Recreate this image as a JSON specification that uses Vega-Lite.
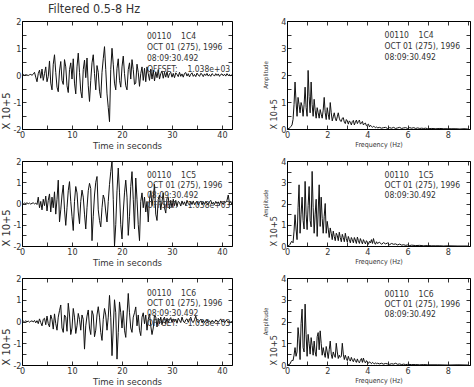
{
"$schema": "https://vega.github.io/schema/vega-lite/v6.json",
"padding": {"left": 0, "top": 2, "right": 4, "bottom": 0},
"columns": 2,
"spacing": {"row": 32, "column": 55},
"bounds": "flush",
"datasets": {
"w4": [{"t":0,"v":0},{"t":0.25,"v":0.02},{"t":0.5,"v":-0.01},{"t":0.75,"v":0.01},{"t":1,"v":0},{"t":1.25,"v":-0.02},{"t":1.5,"v":0.01},{"t":1.75,"v":0.02},{"t":2,"v":-0.01},{"t":2.25,"v":0.03},{"t":2.5,"v":0.1},{"t":2.75,"v":-0.08},{"t":3,"v":-0.25},{"t":3.25,"v":0.05},{"t":3.5,"v":0.18},{"t":3.75,"v":-0.12},{"t":4,"v":0.22},{"t":4.25,"v":-0.2},{"t":4.5,"v":0.05},{"t":4.75,"v":0.3},{"t":5,"v":-0.25},{"t":5.25,"v":-0.05},{"t":5.5,"v":0.52},{"t":5.75,"v":-0.3},{"t":6,"v":-0.55},{"t":6.25,"v":0.4},{"t":6.5,"v":0.75},{"t":6.75,"v":0.1},{"t":7,"v":-0.45},{"t":7.25,"v":-0.62},{"t":7.5,"v":0.15},{"t":7.75,"v":0.5},{"t":8,"v":-0.2},{"t":8.25,"v":-0.35},{"t":8.5,"v":0.57},{"t":8.75,"v":0.3},{"t":9,"v":-0.4},{"t":9.25,"v":-0.65},{"t":9.5,"v":0.2},{"t":9.75,"v":0.45},{"t":10,"v":-0.15},{"t":10.25,"v":0.6},{"t":10.5,"v":-0.3},{"t":10.75,"v":-0.7},{"t":11,"v":0.3},{"t":11.25,"v":0.81},{"t":11.5,"v":0.1},{"t":11.75,"v":-0.6},{"t":12,"v":-0.85},{"t":12.25,"v":0.2},{"t":12.5,"v":0.55},{"t":12.75,"v":-0.1},{"t":13,"v":0.63},{"t":13.25,"v":-0.4},{"t":13.5,"v":-0.98},{"t":13.75,"v":-0.2},{"t":14,"v":0.45},{"t":14.25,"v":0.75},{"t":14.5,"v":0.05},{"t":14.75,"v":-0.55},{"t":15,"v":0.35},{"t":15.25,"v":0.1},{"t":15.5,"v":-0.6},{"t":15.75,"v":-0.85},{"t":16,"v":0.1},{"t":16.25,"v":0.6},{"t":16.5,"v":1.05},{"t":16.75,"v":0.2},{"t":17,"v":-0.7},{"t":17.25,"v":-1.2},{"t":17.5,"v":-1.73},{"t":17.75,"v":0.2},{"t":18,"v":0.99},{"t":18.25,"v":0.4},{"t":18.5,"v":-0.3},{"t":18.75,"v":-0.55},{"t":19,"v":0.25},{"t":19.25,"v":0.6},{"t":19.5,"v":-0.2},{"t":19.75,"v":-0.45},{"t":20,"v":0.3},{"t":20.25,"v":0.7},{"t":20.5,"v":0.05},{"t":20.75,"v":-0.4},{"t":21,"v":-0.55},{"t":21.25,"v":0.2},{"t":21.5,"v":0.45},{"t":21.75,"v":-0.15},{"t":22,"v":0.57},{"t":22.25,"v":0.2},{"t":22.5,"v":-0.35},{"t":22.75,"v":-0.3},{"t":23,"v":0.4},{"t":23.25,"v":0.1},{"t":23.5,"v":-0.42},{"t":23.75,"v":0.05},{"t":24,"v":0.3},{"t":24.25,"v":-0.2},{"t":24.5,"v":0.25},{"t":24.75,"v":-0.25},{"t":25,"v":0.3},{"t":25.25,"v":0.05},{"t":25.5,"v":-0.2},{"t":25.75,"v":0.22},{"t":26,"v":-0.15},{"t":26.25,"v":0.18},{"t":26.5,"v":-0.22},{"t":26.75,"v":0.12},{"t":27,"v":-0.1},{"t":27.25,"v":0.2},{"t":27.5,"v":-0.15},{"t":27.75,"v":0.05},{"t":28,"v":0.15},{"t":28.25,"v":-0.12},{"t":28.5,"v":0.1},{"t":28.75,"v":-0.08},{"t":29,"v":0.12},{"t":29.25,"v":-0.1},{"t":29.5,"v":0.05},{"t":29.75,"v":0.1},{"t":30,"v":-0.08},{"t":30.25,"v":0.06},{"t":30.5,"v":-0.1},{"t":30.75,"v":0.08},{"t":31,"v":0.02},{"t":31.25,"v":-0.06},{"t":31.5,"v":0.1},{"t":31.75,"v":-0.05},{"t":32,"v":0.04},{"t":32.25,"v":-0.08},{"t":32.5,"v":0.06},{"t":32.75,"v":0.09},{"t":33,"v":-0.04},{"t":33.25,"v":0.05},{"t":33.5,"v":-0.07},{"t":33.75,"v":0.03},{"t":34,"v":0.08},{"t":34.25,"v":-0.05},{"t":34.5,"v":0.02},{"t":34.75,"v":-0.06},{"t":35,"v":0.07},{"t":35.25,"v":0},{"t":35.5,"v":-0.05},{"t":35.75,"v":0.06},{"t":36,"v":0.03},{"t":36.25,"v":-0.06},{"t":36.5,"v":0.04},{"t":36.75,"v":-0.02},{"t":37,"v":0.06},{"t":37.25,"v":-0.04},{"t":37.5,"v":0.02},{"t":37.75,"v":-0.05},{"t":38,"v":0.05},{"t":38.25,"v":0.01},{"t":38.5,"v":-0.04},{"t":38.75,"v":0.05},{"t":39,"v":-0.02},{"t":39.25,"v":0.04},{"t":39.5,"v":-0.05},{"t":39.75,"v":0.02},{"t":40,"v":0.04},{"t":40.25,"v":-0.03},{"t":40.5,"v":0.03},{"t":40.75,"v":-0.04},{"t":41,"v":0.05},{"t":41.25,"v":-0.02},{"t":41.5,"v":0.02},{"t":41.75,"v":-0.03},{"t":42,"v":0.01}],
"w5": [{"t":0,"v":0},{"t":0.25,"v":-0.02},{"t":0.5,"v":0.02},{"t":0.75,"v":0},{"t":1,"v":0.03},{"t":1.25,"v":-0.01},{"t":1.5,"v":0.02},{"t":1.75,"v":-0.03},{"t":2,"v":0.01},{"t":2.25,"v":0.03},{"t":2.5,"v":-0.02},{"t":2.75,"v":0.02},{"t":3,"v":-0.05},{"t":3.25,"v":0.3},{"t":3.5,"v":-0.2},{"t":3.75,"v":0.1},{"t":4,"v":-0.3},{"t":4.25,"v":0.2},{"t":4.5,"v":-0.1},{"t":4.75,"v":0.35},{"t":5,"v":-0.35},{"t":5.25,"v":0.15},{"t":5.5,"v":0.45},{"t":5.75,"v":-0.4},{"t":6,"v":0.3},{"t":6.25,"v":-0.2},{"t":6.5,"v":0.55},{"t":6.75,"v":-0.5},{"t":7,"v":0.2},{"t":7.25,"v":1.1},{"t":7.5,"v":-0.87},{"t":7.75,"v":-0.3},{"t":8,"v":0.4},{"t":8.25,"v":0.87},{"t":8.5,"v":-0.3},{"t":8.75,"v":-1.03},{"t":9,"v":-0.2},{"t":9.25,"v":0.6},{"t":9.5,"v":1.03},{"t":9.75,"v":0.1},{"t":10,"v":-0.6},{"t":10.25,"v":-1.27},{"t":10.5,"v":0.1},{"t":10.75,"v":0.8},{"t":11,"v":0.5},{"t":11.25,"v":-0.4},{"t":11.5,"v":-0.95},{"t":11.75,"v":0.1},{"t":12,"v":0.63},{"t":12.25,"v":0.3},{"t":12.5,"v":-0.5},{"t":12.75,"v":-1.2},{"t":13,"v":-0.2},{"t":13.25,"v":0.6},{"t":13.5,"v":0.95},{"t":13.75,"v":0.7},{"t":14,"v":-1.75},{"t":14.25,"v":-0.6},{"t":14.5,"v":0.4},{"t":14.75,"v":1},{"t":15,"v":1.27},{"t":15.25,"v":-0.3},{"t":15.5,"v":-0.8},{"t":15.75,"v":-1.1},{"t":16,"v":-0.2},{"t":16.25,"v":0.4},{"t":16.5,"v":0.2},{"t":16.75,"v":-0.4},{"t":17,"v":-0.87},{"t":17.25,"v":0.1},{"t":17.5,"v":0.9},{"t":17.75,"v":1.5},{"t":18,"v":2},{"t":18.25,"v":0.2},{"t":18.5,"v":-2},{"t":18.75,"v":-1},{"t":19,"v":0.6},{"t":19.25,"v":1.67},{"t":19.5,"v":0.5},{"t":19.75,"v":-1},{"t":20,"v":-1.67},{"t":20.25,"v":-0.4},{"t":20.5,"v":0.5},{"t":20.75,"v":1.1},{"t":21,"v":0.3},{"t":21.25,"v":-1.5},{"t":21.5,"v":-0.6},{"t":21.75,"v":0.8},{"t":22,"v":1.5},{"t":22.25,"v":0.2},{"t":22.5,"v":-1.2},{"t":22.75,"v":1.2},{"t":23,"v":0.2},{"t":23.25,"v":-1},{"t":23.5,"v":-1.75},{"t":23.75,"v":0.1},{"t":24,"v":0.5},{"t":24.25,"v":-0.2},{"t":24.5,"v":0.3},{"t":24.75,"v":-0.4},{"t":25,"v":0.1},{"t":25.25,"v":-0.87},{"t":25.5,"v":0.2},{"t":25.75,"v":0.6},{"t":26,"v":-0.1},{"t":26.25,"v":0.3},{"t":26.5,"v":0.9},{"t":26.75,"v":-0.5},{"t":27,"v":-0.8},{"t":27.25,"v":0.2},{"t":27.5,"v":0.4},{"t":27.75,"v":-0.3},{"t":28,"v":0.1},{"t":28.25,"v":0.5},{"t":28.5,"v":-0.2},{"t":28.75,"v":-0.45},{"t":29,"v":0.25},{"t":29.25,"v":0.3},{"t":29.5,"v":-0.25},{"t":29.75,"v":0.15},{"t":30,"v":-0.2},{"t":30.25,"v":0.2},{"t":30.5,"v":-0.1},{"t":30.75,"v":0.15},{"t":31,"v":-0.15},{"t":31.25,"v":0.1},{"t":31.5,"v":0.05},{"t":31.75,"v":-0.12},{"t":32,"v":0.12},{"t":32.25,"v":-0.05},{"t":32.5,"v":0.08},{"t":32.75,"v":-0.1},{"t":33,"v":0.15},{"t":33.25,"v":0},{"t":33.5,"v":-0.08},{"t":33.75,"v":0.1},{"t":34,"v":-0.05},{"t":34.25,"v":0.12},{"t":34.5,"v":-0.06},{"t":34.75,"v":0.05},{"t":35,"v":0.1},{"t":35.25,"v":-0.08},{"t":35.5,"v":0.06},{"t":35.75,"v":0.12},{"t":36,"v":-0.05},{"t":36.25,"v":0.08},{"t":36.5,"v":-0.04},{"t":36.75,"v":0.1},{"t":37,"v":0.02},{"t":37.25,"v":-0.06},{"t":37.5,"v":0.08},{"t":37.75,"v":0.15},{"t":38,"v":-0.03},{"t":38.25,"v":0.06},{"t":38.5,"v":-0.05},{"t":38.75,"v":0.1},{"t":39,"v":0},{"t":39.25,"v":0.08},{"t":39.5,"v":-0.06},{"t":39.75,"v":0.12},{"t":40,"v":0.03},{"t":40.25,"v":-0.05},{"t":40.5,"v":0.1},{"t":40.75,"v":0.05},{"t":41,"v":0.15},{"t":41.25,"v":0.4},{"t":41.5,"v":0},{"t":41.75,"v":0.1},{"t":42,"v":-0.05}],
"w6": [{"t":0,"v":0},{"t":0.25,"v":0.02},{"t":0.5,"v":-0.02},{"t":0.75,"v":0.03},{"t":1,"v":-0.01},{"t":1.25,"v":0.02},{"t":1.5,"v":-0.03},{"t":1.75,"v":0.01},{"t":2,"v":0.03},{"t":2.25,"v":-0.02},{"t":2.5,"v":0.05},{"t":2.75,"v":-0.06},{"t":3,"v":0.04},{"t":3.25,"v":-0.1},{"t":3.5,"v":0.12},{"t":3.75,"v":-0.05},{"t":4,"v":-0.2},{"t":4.25,"v":0.1},{"t":4.5,"v":0.15},{"t":4.75,"v":-0.15},{"t":5,"v":0.25},{"t":5.25,"v":-0.1},{"t":5.5,"v":-0.25},{"t":5.75,"v":0.3},{"t":6,"v":0.1},{"t":6.25,"v":-0.35},{"t":6.5,"v":0.35},{"t":6.75,"v":-0.1},{"t":7,"v":-0.4},{"t":7.25,"v":0.2},{"t":7.5,"v":0.5},{"t":7.75,"v":0.76},{"t":8,"v":-0.3},{"t":8.25,"v":-0.5},{"t":8.5,"v":0.3},{"t":8.75,"v":0.2},{"t":9,"v":-0.45},{"t":9.25,"v":0.84},{"t":9.5,"v":0.3},{"t":9.75,"v":-0.6},{"t":10,"v":-0.3},{"t":10.25,"v":0.6},{"t":10.5,"v":0.2},{"t":10.75,"v":-0.55},{"t":11,"v":-0.2},{"t":11.25,"v":0.37},{"t":11.5,"v":0.1},{"t":11.75,"v":-0.4},{"t":12,"v":0.3},{"t":12.25,"v":0.1},{"t":12.5,"v":-1.27},{"t":12.75,"v":-0.2},{"t":13,"v":0.25},{"t":13.25,"v":0.53},{"t":13.5,"v":-0.3},{"t":13.75,"v":-0.6},{"t":14,"v":0.5},{"t":14.25,"v":0.3},{"t":14.5,"v":-0.7},{"t":14.75,"v":-0.4},{"t":15,"v":0.3},{"t":15.25,"v":0.68},{"t":15.5,"v":0.2},{"t":15.75,"v":-0.5},{"t":16,"v":-0.87},{"t":16.25,"v":0.1},{"t":16.5,"v":0.6},{"t":16.75,"v":0.3},{"t":17,"v":-0.4},{"t":17.25,"v":0.2},{"t":17.5,"v":1.2},{"t":17.75,"v":0.2},{"t":18,"v":-1.57},{"t":18.25,"v":-0.3},{"t":18.5,"v":1},{"t":18.75,"v":0.4},{"t":19,"v":-1.73},{"t":19.25,"v":-0.5},{"t":19.5,"v":0.9},{"t":19.75,"v":0.4},{"t":20,"v":-0.3},{"t":20.25,"v":0.5},{"t":20.5,"v":-0.4},{"t":20.75,"v":-0.73},{"t":21,"v":0.3},{"t":21.25,"v":1.29},{"t":21.5,"v":0.4},{"t":21.75,"v":-0.3},{"t":22,"v":-0.5},{"t":22.25,"v":0.2},{"t":22.5,"v":0.4},{"t":22.75,"v":0.67},{"t":23,"v":-0.2},{"t":23.25,"v":0.3},{"t":23.5,"v":-0.4},{"t":23.75,"v":-0.65},{"t":24,"v":0.2},{"t":24.25,"v":0.4},{"t":24.5,"v":-0.1},{"t":24.75,"v":0.3},{"t":25,"v":-0.4},{"t":25.25,"v":0.1},{"t":25.5,"v":0.35},{"t":25.75,"v":-0.2},{"t":26,"v":-0.6},{"t":26.25,"v":-0.3},{"t":26.5,"v":0.3},{"t":26.75,"v":0.2},{"t":27,"v":-0.25},{"t":27.25,"v":0.15},{"t":27.5,"v":-0.1},{"t":27.75,"v":0.2},{"t":28,"v":-0.15},{"t":28.25,"v":0.1},{"t":28.5,"v":0.2},{"t":28.75,"v":-0.1},{"t":29,"v":0.15},{"t":29.25,"v":-0.05},{"t":29.5,"v":0.1},{"t":29.75,"v":0.18},{"t":30,"v":-0.05},{"t":30.25,"v":0.12},{"t":30.5,"v":0},{"t":30.75,"v":0.1},{"t":31,"v":-0.08},{"t":31.25,"v":0.15},{"t":31.5,"v":0.05},{"t":31.75,"v":-0.05},{"t":32,"v":0.2},{"t":32.25,"v":0.02},{"t":32.5,"v":-0.06},{"t":32.75,"v":0.08},{"t":33,"v":0.12},{"t":33.25,"v":-0.04},{"t":33.5,"v":0.1},{"t":33.75,"v":0.2},{"t":34,"v":0},{"t":34.25,"v":-0.05},{"t":34.5,"v":0.08},{"t":34.75,"v":0.25},{"t":35,"v":0.02},{"t":35.25,"v":-0.06},{"t":35.5,"v":0.05},{"t":35.75,"v":0.1},{"t":36,"v":-0.04},{"t":36.25,"v":0.06},{"t":36.5,"v":-0.05},{"t":36.75,"v":0.04},{"t":37,"v":0.08},{"t":37.25,"v":-0.03},{"t":37.5,"v":0.02},{"t":37.75,"v":-0.06},{"t":38,"v":0.05},{"t":38.25,"v":0},{"t":38.5,"v":-0.05},{"t":38.75,"v":0.07},{"t":39,"v":0.02},{"t":39.25,"v":-0.04},{"t":39.5,"v":0.05},{"t":39.75,"v":0.12},{"t":40,"v":-0.02},{"t":40.25,"v":0.04},{"t":40.5,"v":-0.06},{"t":40.75,"v":0.03},{"t":41,"v":0.05},{"t":41.25,"v":-0.03},{"t":41.5,"v":0.02},{"t":41.75,"v":-0.04},{"t":42,"v":0.01}],
"f4": [{"f":0,"a":0},{"f":0.05,"a":0.01},{"f":0.1,"a":0.02},{"f":0.15,"a":0.05},{"f":0.2,"a":0.1},{"f":0.25,"a":0.15},{"f":0.3,"a":0.35},{"f":0.35,"a":0.9},{"f":0.4,"a":1.74},{"f":0.45,"a":1},{"f":0.5,"a":0.47},{"f":0.55,"a":1.17},{"f":0.6,"a":0.9},{"f":0.65,"a":0.6},{"f":0.7,"a":0.98},{"f":0.75,"a":0.85},{"f":0.8,"a":0.47},{"f":0.85,"a":0.9},{"f":0.9,"a":1.55},{"f":0.95,"a":0.8},{"f":1,"a":0.47},{"f":1.05,"a":2.17},{"f":1.1,"a":1.2},{"f":1.15,"a":0.6},{"f":1.2,"a":1.74},{"f":1.25,"a":0.9},{"f":1.3,"a":0.47},{"f":1.35,"a":1.1},{"f":1.4,"a":0.7},{"f":1.45,"a":0.4},{"f":1.5,"a":0.79},{"f":1.55,"a":0.6},{"f":1.6,"a":0.4},{"f":1.65,"a":0.72},{"f":1.7,"a":0.55},{"f":1.75,"a":0.4},{"f":1.8,"a":0.7},{"f":1.85,"a":1.17},{"f":1.9,"a":0.6},{"f":1.95,"a":0.35},{"f":2,"a":0.79},{"f":2.05,"a":0.55},{"f":2.1,"a":0.35},{"f":2.15,"a":0.98},{"f":2.2,"a":0.6},{"f":2.25,"a":0.3},{"f":2.3,"a":0.45},{"f":2.35,"a":0.6},{"f":2.4,"a":0.4},{"f":2.45,"a":0.3},{"f":2.5,"a":0.45},{"f":2.55,"a":0.6},{"f":2.6,"a":0.4},{"f":2.65,"a":0.3},{"f":2.7,"a":0.28},{"f":2.75,"a":0.4},{"f":2.8,"a":0.42},{"f":2.85,"a":0.25},{"f":2.9,"a":0.2},{"f":2.95,"a":0.35},{"f":3,"a":0.3},{"f":3.05,"a":0.18},{"f":3.1,"a":0.3},{"f":3.15,"a":0.25},{"f":3.2,"a":0.15},{"f":3.25,"a":0.28},{"f":3.3,"a":0.32},{"f":3.35,"a":0.15},{"f":3.4,"a":0.25},{"f":3.45,"a":0.33},{"f":3.5,"a":0.2},{"f":3.55,"a":0.28},{"f":3.6,"a":0.33},{"f":3.65,"a":0.18},{"f":3.7,"a":0.22},{"f":3.75,"a":0.28},{"f":3.8,"a":0.15},{"f":3.85,"a":0.2},{"f":3.9,"a":0.22},{"f":3.95,"a":0.12},{"f":4,"a":0.15},{"f":4.05,"a":0.18},{"f":4.1,"a":0.08},{"f":4.15,"a":0.14},{"f":4.2,"a":0.1},{"f":4.25,"a":0.06},{"f":4.3,"a":0.1},{"f":4.35,"a":0.08},{"f":4.4,"a":0.05},{"f":4.45,"a":0.08},{"f":4.5,"a":0.04},{"f":4.6,"a":0.06},{"f":4.7,"a":0.03},{"f":4.8,"a":0.05},{"f":4.9,"a":0.06},{"f":5,"a":0.02},{"f":5.1,"a":0.05},{"f":5.2,"a":0.03},{"f":5.3,"a":0.06},{"f":5.4,"a":0.02},{"f":5.5,"a":0.04},{"f":5.6,"a":0.06},{"f":5.7,"a":0.02},{"f":5.8,"a":0.04},{"f":5.9,"a":0.05},{"f":6,"a":0.02},{"f":6.1,"a":0.05},{"f":6.2,"a":0.03},{"f":6.3,"a":0.05},{"f":6.4,"a":0.02},{"f":6.5,"a":0.04},{"f":6.6,"a":0.02},{"f":6.7,"a":0.03},{"f":6.8,"a":0.02},{"f":6.9,"a":0.03},{"f":7,"a":0.01},{"f":7.2,"a":0.02},{"f":7.4,"a":0.01},{"f":7.6,"a":0.02},{"f":7.8,"a":0.01},{"f":8,"a":0.01},{"f":8.2,"a":0.01},{"f":8.4,"a":0.01},{"f":8.6,"a":0},{"f":8.8,"a":0.01},{"f":9,"a":0}],
"f5": [{"f":0,"a":0},{"f":0.05,"a":0.01},{"f":0.1,"a":0.02},{"f":0.15,"a":0.08},{"f":0.2,"a":0.18},{"f":0.25,"a":0.22},{"f":0.3,"a":0.15},{"f":0.35,"a":0.7},{"f":0.4,"a":1.47},{"f":0.45,"a":0.8},{"f":0.5,"a":0.3},{"f":0.55,"a":1.8},{"f":0.6,"a":2.88},{"f":0.65,"a":0.6},{"f":0.7,"a":1.5},{"f":0.75,"a":2.3},{"f":0.8,"a":1.2},{"f":0.85,"a":0.8},{"f":0.9,"a":3.04},{"f":0.95,"a":1.5},{"f":1,"a":0.77},{"f":1.05,"a":1.9},{"f":1.1,"a":2.8},{"f":1.15,"a":1.2},{"f":1.2,"a":0.9},{"f":1.25,"a":3.51},{"f":1.3,"a":1.8},{"f":1.35,"a":0.6},{"f":1.4,"a":1.5},{"f":1.45,"a":2.2},{"f":1.5,"a":0.45},{"f":1.55,"a":1.6},{"f":1.6,"a":2.88},{"f":1.65,"a":0.92},{"f":1.7,"a":2.3},{"f":1.75,"a":1.3},{"f":1.8,"a":0.6},{"f":1.85,"a":1.4},{"f":1.9,"a":2},{"f":1.95,"a":0.6},{"f":2,"a":1.16},{"f":2.05,"a":0.8},{"f":2.1,"a":0.4},{"f":2.15,"a":0.85},{"f":2.2,"a":0.6},{"f":2.25,"a":0.3},{"f":2.3,"a":0.7},{"f":2.35,"a":0.45},{"f":2.4,"a":0.25},{"f":2.45,"a":0.6},{"f":2.5,"a":0.5},{"f":2.55,"a":0.25},{"f":2.6,"a":0.65},{"f":2.65,"a":0.4},{"f":2.7,"a":0.2},{"f":2.75,"a":0.55},{"f":2.8,"a":0.4},{"f":2.85,"a":0.2},{"f":2.9,"a":0.6},{"f":2.95,"a":0.35},{"f":3,"a":0.18},{"f":3.05,"a":0.45},{"f":3.1,"a":0.3},{"f":3.15,"a":0.15},{"f":3.2,"a":0.4},{"f":3.25,"a":0.3},{"f":3.3,"a":0.15},{"f":3.35,"a":0.4},{"f":3.4,"a":0.28},{"f":3.45,"a":0.12},{"f":3.5,"a":0.42},{"f":3.55,"a":0.25},{"f":3.6,"a":0.12},{"f":3.65,"a":0.35},{"f":3.7,"a":0.22},{"f":3.75,"a":0.1},{"f":3.8,"a":0.3},{"f":3.85,"a":0.2},{"f":3.9,"a":0.1},{"f":3.95,"a":0.25},{"f":4,"a":0.18},{"f":4.05,"a":0.08},{"f":4.1,"a":0.22},{"f":4.15,"a":0.15},{"f":4.2,"a":0.3},{"f":4.25,"a":0.12},{"f":4.3,"a":0.35},{"f":4.35,"a":0.15},{"f":4.4,"a":0.08},{"f":4.45,"a":0.2},{"f":4.5,"a":0.12},{"f":4.6,"a":0.18},{"f":4.7,"a":0.08},{"f":4.8,"a":0.16},{"f":4.9,"a":0.1},{"f":5,"a":0.14},{"f":5.1,"a":0.06},{"f":5.2,"a":0.12},{"f":5.3,"a":0.08},{"f":5.4,"a":0.1},{"f":5.5,"a":0.05},{"f":5.6,"a":0.09},{"f":5.7,"a":0.04},{"f":5.8,"a":0.06},{"f":5.9,"a":0.03},{"f":6,"a":0.05},{"f":6.1,"a":0.02},{"f":6.2,"a":0.04},{"f":6.4,"a":0.02},{"f":6.6,"a":0.03},{"f":6.8,"a":0.01},{"f":7,"a":0.02},{"f":7.2,"a":0.01},{"f":7.4,"a":0.01},{"f":7.6,"a":0.01},{"f":7.8,"a":0},{"f":8,"a":0.01},{"f":8.5,"a":0},{"f":9,"a":0}],
"f6": [{"f":0,"a":0},{"f":0.05,"a":0.01},{"f":0.1,"a":0.02},{"f":0.15,"a":0.05},{"f":0.2,"a":0.15},{"f":0.25,"a":0.22},{"f":0.3,"a":0.2},{"f":0.35,"a":0.45},{"f":0.4,"a":0.8},{"f":0.45,"a":0.4},{"f":0.5,"a":0.6},{"f":0.55,"a":1.72},{"f":0.6,"a":1.2},{"f":0.65,"a":0.25},{"f":0.7,"a":1.9},{"f":0.75,"a":2.57},{"f":0.8,"a":0.8},{"f":0.85,"a":0.6},{"f":0.9,"a":2.8},{"f":0.95,"a":1.4},{"f":1,"a":0.4},{"f":1.05,"a":1.41},{"f":1.1,"a":1},{"f":1.15,"a":0.5},{"f":1.2,"a":1.26},{"f":1.25,"a":0.9},{"f":1.3,"a":0.45},{"f":1.35,"a":1.1},{"f":1.4,"a":0.6},{"f":1.45,"a":0.4},{"f":1.5,"a":1.3},{"f":1.55,"a":1.49},{"f":1.6,"a":0.7},{"f":1.65,"a":1.57},{"f":1.7,"a":1},{"f":1.75,"a":0.45},{"f":1.8,"a":0.8},{"f":1.85,"a":0.55},{"f":1.9,"a":0.35},{"f":1.95,"a":0.85},{"f":2,"a":0.6},{"f":2.05,"a":0.3},{"f":2.1,"a":0.7},{"f":2.15,"a":1.1},{"f":2.2,"a":0.5},{"f":2.25,"a":0.3},{"f":2.3,"a":0.6},{"f":2.35,"a":0.45},{"f":2.4,"a":0.35},{"f":2.45,"a":1},{"f":2.5,"a":0.6},{"f":2.55,"a":0.3},{"f":2.6,"a":0.45},{"f":2.65,"a":0.35},{"f":2.7,"a":0.4},{"f":2.75,"a":1},{"f":2.8,"a":0.5},{"f":2.85,"a":0.25},{"f":2.9,"a":0.45},{"f":2.95,"a":0.3},{"f":3,"a":0.2},{"f":3.05,"a":0.4},{"f":3.1,"a":0.25},{"f":3.15,"a":0.18},{"f":3.2,"a":0.35},{"f":3.25,"a":0.22},{"f":3.3,"a":0.15},{"f":3.35,"a":0.3},{"f":3.4,"a":0.2},{"f":3.45,"a":0.12},{"f":3.5,"a":0.28},{"f":3.55,"a":0.15},{"f":3.6,"a":0.1},{"f":3.65,"a":0.22},{"f":3.7,"a":0.3},{"f":3.75,"a":0.12},{"f":3.8,"a":0.32},{"f":3.85,"a":0.15},{"f":3.9,"a":0.1},{"f":3.95,"a":0.2},{"f":4,"a":0.12},{"f":4.05,"a":0.08},{"f":4.1,"a":0.15},{"f":4.15,"a":0.1},{"f":4.2,"a":0.06},{"f":4.25,"a":0.12},{"f":4.3,"a":0.08},{"f":4.35,"a":0.05},{"f":4.4,"a":0.1},{"f":4.45,"a":0.06},{"f":4.5,"a":0.08},{"f":4.6,"a":0.05},{"f":4.7,"a":0.08},{"f":4.8,"a":0.04},{"f":4.9,"a":0.07},{"f":5,"a":0.05},{"f":5.1,"a":0.03},{"f":5.2,"a":0.06},{"f":5.3,"a":0.04},{"f":5.4,"a":0.08},{"f":5.5,"a":0.03},{"f":5.6,"a":0.05},{"f":5.7,"a":0.02},{"f":5.8,"a":0.04},{"f":5.9,"a":0.02},{"f":6,"a":0.03},{"f":6.2,"a":0.02},{"f":6.4,"a":0.02},{"f":6.6,"a":0.01},{"f":6.8,"a":0.02},{"f":7,"a":0.01},{"f":7.5,"a":0.01},{"f":8,"a":0},{"f":8.5,"a":0.01},{"f":9,"a":0}],
"notes": [{"id":"1C4"},{"id":"1C5"},{"id":"1C6"}]
},
"concat": [
{
 "width": 210, "height": 108,
 "title": {"text": "Filtered 0.5-8 Hz", "anchor": "start", "frame": "group", "dx": 26, "fontSize": 12.5, "offset": 2},
 "layer": [
  {"data": {"name": "w4"}, "mark": {"type": "line", "color": "#111", "strokeWidth": 1},
   "encoding": {
    "x": {"field": "t", "type": "quantitative", "scale": {"domain": [0, 42], "nice": false, "zero": false}, "axis": {"orient": "bottom", "values": [0,5,10,15,20,25,30,35,40], "labelExpr": "datum.value % 10 == 0 ? '' + datum.value : ''", "title": "Time in seconds"}},
    "y": {"field": "v", "type": "quantitative", "scale": {"domain": [-2, 2], "nice": false, "zero": false}, "axis": {"orient": "left", "values": [-2,-1.5,-1,-0.5,0,0.5,1,1.5,2], "labelExpr": "datum.value % 1 == 0 ? '' + datum.value : ''", "title": "X 10+5", "titleAnchor": "start", "titleFontSize": 11, "titlePadding": 1}}
   }},
  {"data": {"name": "notes"}, "transform": [{"filter": "datum.id == '1C4'"}], "mark": {"type": "text", "align": "left", "baseline": "middle", "fontSize": 8.5, "lineHeight": 11},
   "encoding": {
    "x": {"datum": 25, "type": "quantitative", "axis": {"orient": "top", "values": [0,5,10,15,20,25,30,35,40], "labels": false, "title": null}},
    "y": {"datum": 1.44, "type": "quantitative", "axis": {"orient": "right", "values": [-2,-1.5,-1,-0.5,0,0.5,1,1.5,2], "labels": false, "title": null}},
    "text": {"value": ["00110\u00a0\u00a0\u00a0\u00a01C4", "OCT 01 (275), 1996", "08:09:30.492", "OFFSET:\u00a0\u00a0\u00a0\u00a01.038e+03"]}
   }}
 ],
 "resolve": {"axis": {"x": "independent", "y": "independent"}}
},
{
 "width": 183, "height": 108,
 "title": {"text": "Amplitude", "orient": "left", "anchor": "middle", "fontSize": 6, "offset": 1},
 "layer": [
  {"data": {"name": "f4"}, "mark": {"type": "line", "color": "#111", "strokeWidth": 1},
   "encoding": {
    "x": {"field": "f", "type": "quantitative", "scale": {"domain": [0, 9.1], "nice": false, "zero": false}, "axis": {"orient": "bottom", "values": [0,1,2,3,4,5,6,7,8,9], "labelExpr": "datum.value % 2 == 0 ? '' + datum.value : ''", "title": "Frequency (Hz)", "titleFontSize": 7}},
    "y": {"field": "a", "type": "quantitative", "scale": {"domain": [0, 4], "nice": false}, "axis": {"orient": "left", "values": [0,0.5,1,1.5,2,2.5,3,3.5,4], "labelExpr": "datum.value % 1 == 0 ? '' + datum.value : ''", "title": "X 10+5", "titleAnchor": "start", "titleFontSize": 9, "titlePadding": 2}}
   }},
  {"data": {"name": "notes"}, "transform": [{"filter": "datum.id == '1C4'"}], "mark": {"type": "text", "align": "left", "baseline": "middle", "fontSize": 8.5, "lineHeight": 11},
   "encoding": {
    "x": {"datum": 4.85, "type": "quantitative", "axis": {"orient": "top", "values": [0,1,2,3,4,5,6,7,8,9], "labels": false, "title": null}},
    "y": {"datum": 3.47, "type": "quantitative", "axis": {"orient": "right", "values": [0,0.5,1,1.5,2,2.5,3,3.5,4], "labels": false, "title": null}},
    "text": {"value": ["00110\u00a0\u00a0\u00a0\u00a01C4", "OCT 01 (275), 1996", "08:09:30.492"]}
   }}
 ],
 "resolve": {"axis": {"x": "independent", "y": "independent"}}
},
{
 "width": 210, "height": 85,
 "layer": [
  {"data": {"name": "w5"}, "mark": {"type": "line", "color": "#111", "strokeWidth": 1},
   "encoding": {
    "x": {"field": "t", "type": "quantitative", "scale": {"domain": [0, 42], "nice": false, "zero": false}, "axis": {"orient": "bottom", "values": [0,5,10,15,20,25,30,35,40], "labelExpr": "datum.value % 10 == 0 ? '' + datum.value : ''", "title": "Time in seconds"}},
    "y": {"field": "v", "type": "quantitative", "scale": {"domain": [-2, 2], "nice": false, "zero": false, "clamp": true}, "axis": {"orient": "left", "values": [-2,-1.5,-1,-0.5,0,0.5,1,1.5,2], "labelExpr": "datum.value % 1 == 0 ? '' + datum.value : ''", "title": "X 10+5", "titleAnchor": "start", "titleFontSize": 11, "titlePadding": 1}}
   }},
  {"data": {"name": "notes"}, "transform": [{"filter": "datum.id == '1C5'"}], "mark": {"type": "text", "align": "left", "baseline": "middle", "fontSize": 8.5, "lineHeight": 10},
   "encoding": {
    "x": {"datum": 25, "type": "quantitative", "axis": {"orient": "top", "values": [0,5,10,15,20,25,30,35,40], "labels": false, "title": null}},
    "y": {"datum": 1.33, "type": "quantitative", "axis": {"orient": "right", "values": [-2,-1.5,-1,-0.5,0,0.5,1,1.5,2], "labels": false, "title": null}},
    "text": {"value": ["00110\u00a0\u00a0\u00a0\u00a01C5", "OCT 01 (275), 1996", "08:09:30.492", "OFFSET:\u00a0\u00a0\u00a0-1.038e+03"]}
   }}
 ],
 "resolve": {"axis": {"x": "independent", "y": "independent"}}
},
{
 "width": 183, "height": 85,
 "title": {"text": "Amplitude", "orient": "left", "anchor": "middle", "fontSize": 6, "offset": 1},
 "layer": [
  {"data": {"name": "f5"}, "mark": {"type": "line", "color": "#111", "strokeWidth": 1},
   "encoding": {
    "x": {"field": "f", "type": "quantitative", "scale": {"domain": [0, 9.1], "nice": false, "zero": false}, "axis": {"orient": "bottom", "values": [0,1,2,3,4,5,6,7,8,9], "labelExpr": "datum.value % 2 == 0 ? '' + datum.value : ''", "title": "Frequency (Hz)", "titleFontSize": 7}},
    "y": {"field": "a", "type": "quantitative", "scale": {"domain": [0, 4], "nice": false}, "axis": {"orient": "left", "values": [0,0.5,1,1.5,2,2.5,3,3.5,4], "labelExpr": "datum.value % 1 == 0 ? '' + datum.value : ''", "title": "X 10+5", "titleAnchor": "start", "titleFontSize": 9, "titlePadding": 2}}
   }},
  {"data": {"name": "notes"}, "transform": [{"filter": "datum.id == '1C5'"}], "mark": {"type": "text", "align": "left", "baseline": "middle", "fontSize": 8.5, "lineHeight": 10},
   "encoding": {
    "x": {"datum": 4.85, "type": "quantitative", "axis": {"orient": "top", "values": [0,1,2,3,4,5,6,7,8,9], "labels": false, "title": null}},
    "y": {"datum": 3.34, "type": "quantitative", "axis": {"orient": "right", "values": [0,0.5,1,1.5,2,2.5,3,3.5,4], "labels": false, "title": null}},
    "text": {"value": ["00110\u00a0\u00a0\u00a0\u00a01C5", "OCT 01 (275), 1996", "08:09:30.492"]}
   }}
 ],
 "resolve": {"axis": {"x": "independent", "y": "independent"}}
},
{
 "width": 210, "height": 87,
 "layer": [
  {"data": {"name": "w6"}, "mark": {"type": "line", "color": "#111", "strokeWidth": 1},
   "encoding": {
    "x": {"field": "t", "type": "quantitative", "scale": {"domain": [0, 42], "nice": false, "zero": false}, "axis": {"orient": "bottom", "values": [0,5,10,15,20,25,30,35,40], "labelExpr": "datum.value % 10 == 0 ? '' + datum.value : ''", "title": "Time in seconds"}},
    "y": {"field": "v", "type": "quantitative", "scale": {"domain": [-2, 2], "nice": false, "zero": false}, "axis": {"orient": "left", "values": [-2,-1.5,-1,-0.5,0,0.5,1,1.5,2], "labelExpr": "datum.value % 1 == 0 ? '' + datum.value : ''", "title": "X 10+5", "titleAnchor": "start", "titleFontSize": 11, "titlePadding": 1}}
   }},
  {"data": {"name": "notes"}, "transform": [{"filter": "datum.id == '1C6'"}], "mark": {"type": "text", "align": "left", "baseline": "middle", "fontSize": 8.5, "lineHeight": 10},
   "encoding": {
    "x": {"datum": 25, "type": "quantitative", "axis": {"orient": "top", "values": [0,5,10,15,20,25,30,35,40], "labels": false, "title": null}},
    "y": {"datum": 1.3, "type": "quantitative", "axis": {"orient": "right", "values": [-2,-1.5,-1,-0.5,0,0.5,1,1.5,2], "labels": false, "title": null}},
    "text": {"value": ["00110\u00a0\u00a0\u00a0\u00a01C6", "OCT 01 (275), 1996", "08:09:30.492", "OFFSET:\u00a0\u00a0\u00a0-1.038e+03"]}
   }}
 ],
 "resolve": {"axis": {"x": "independent", "y": "independent"}}
},
{
 "width": 183, "height": 87,
 "title": {"text": "Amplitude", "orient": "left", "anchor": "middle", "fontSize": 6, "offset": 1},
 "layer": [
  {"data": {"name": "f6"}, "mark": {"type": "line", "color": "#111", "strokeWidth": 1},
   "encoding": {
    "x": {"field": "f", "type": "quantitative", "scale": {"domain": [0, 9.1], "nice": false, "zero": false}, "axis": {"orient": "bottom", "values": [0,1,2,3,4,5,6,7,8,9], "labelExpr": "datum.value % 2 == 0 ? '' + datum.value : ''", "title": "Frequency (Hz)", "titleFontSize": 7}},
    "y": {"field": "a", "type": "quantitative", "scale": {"domain": [0, 4], "nice": false}, "axis": {"orient": "left", "values": [0,0.5,1,1.5,2,2.5,3,3.5,4], "labelExpr": "datum.value % 1 == 0 ? '' + datum.value : ''", "title": "X 10+5", "titleAnchor": "start", "titleFontSize": 9, "titlePadding": 2}}
   }},
  {"data": {"name": "notes"}, "transform": [{"filter": "datum.id == '1C6'"}], "mark": {"type": "text", "align": "left", "baseline": "middle", "fontSize": 8.5, "lineHeight": 10},
   "encoding": {
    "x": {"datum": 4.85, "type": "quantitative", "axis": {"orient": "top", "values": [0,1,2,3,4,5,6,7,8,9], "labels": false, "title": null}},
    "y": {"datum": 3.26, "type": "quantitative", "axis": {"orient": "right", "values": [0,0.5,1,1.5,2,2.5,3,3.5,4], "labels": false, "title": null}},
    "text": {"value": ["00110\u00a0\u00a0\u00a0\u00a01C6", "OCT 01 (275), 1996", "08:09:30.492"]}
   }}
 ],
 "resolve": {"axis": {"x": "independent", "y": "independent"}}
}
],
"config": {
 "font": "DejaVu Sans Condensed",
 "view": {"stroke": "#000", "strokeWidth": 1},
 "axis": {"domain": false, "grid": false, "ticks": true, "tickSize": -4, "tickColor": "#000", "tickWidth": 0.8, "labelPadding": 5, "labelFontSize": 9, "labelColor": "#333", "labelFlush": false, "labelOverlap": false, "titleFontWeight": "normal", "titleColor": "#333", "titleFontSize": 9.5},
 "axisX": {"titlePadding": 1},
 "title": {"fontWeight": "normal", "color": "#333"},
 "text": {"color": "#333"}
}
}
